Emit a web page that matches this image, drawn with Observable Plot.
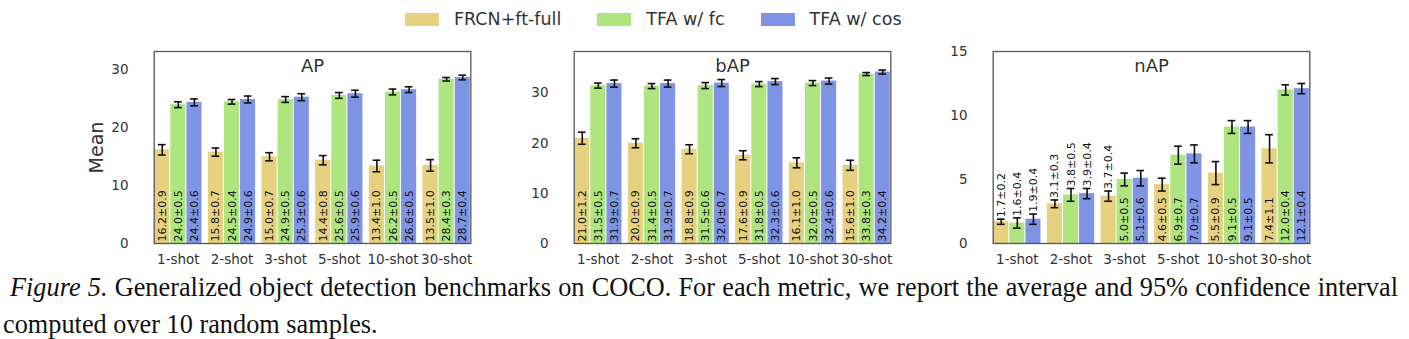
<!DOCTYPE html>
<html><head><meta charset="utf-8">
<script src="https://cdn.jsdelivr.net/npm/d3@7"></script>
<script src="https://cdn.jsdelivr.net/npm/@observablehq/plot@0.6"></script>
<style>
html,body{margin:0;padding:0;background:#fff;}
body{width:1409px;height:339px;position:relative;overflow:hidden;font-family:"DejaVu Sans",sans-serif;}
.panel{position:absolute;top:40px;width:420px;height:238px;}
.panel svg{max-width:none;overflow:visible;background:transparent;}
.panel g[aria-label="y-axis label"] text{font-size:19px;}
#legend{position:absolute;left:405px;top:13px;height:13px;display:flex;align-items:center;}
.item{display:flex;align-items:center;margin-right:36px;}
.sw{width:34px;height:13px;margin-right:15px;}
.lt{font-size:17.5px;color:#333;line-height:13px;}
.cap{position:absolute;font-family:"Liberation Serif",serif;font-size:26.3px;line-height:37px;color:#111;white-space:nowrap;}
</style>
</head><body>
<div id="legend"></div>
<div class="panel" id="p0" style="left:77px"></div>
<div class="panel" id="p1" style="left:497px"></div>
<div class="panel" id="p2" style="left:916px"></div>
<div class="cap" id="cap1" style="left:10px;top:269px;width:1388px;white-space:normal;text-align:justify;text-align-last:justify;"></div>
<div class="cap" id="cap2" style="left:3px;top:306px;"></div>
<script>
const shots = ["1-shot", "2-shot", "3-shot", "5-shot", "10-shot", "30-shot"];
const methods = ["FRCN+ft-full", "TFA w/ fc", "TFA w/ cos"];
const colors = ["#e5d17f", "#aee57f", "#7f94e5"];
const metrics = ["AP", "bAP", "nAP"];

// mean and 95% CI half-width per method (rows follow `methods`), columns follow `shots`
const apMean = [[16.2, 15.8, 15.0, 14.4, 13.4, 13.5], [24.0, 24.5, 24.9, 25.6, 26.2, 28.4], [24.4, 24.9, 25.3, 25.9, 26.6, 28.7]];
const apErr  = [[0.9, 0.7, 0.7, 0.8, 1.0, 1.0], [0.5, 0.4, 0.5, 0.5, 0.5, 0.3], [0.6, 0.6, 0.6, 0.6, 0.5, 0.4]];
const bapMean = [[21.0, 20.0, 18.8, 17.6, 16.1, 15.6], [31.5, 31.4, 31.5, 31.8, 32.0, 33.8], [31.9, 31.9, 32.0, 32.3, 32.4, 34.2]];
const bapErr  = [[1.2, 0.9, 0.9, 0.9, 1.0, 1.0], [0.5, 0.5, 0.6, 0.5, 0.5, 0.3], [0.7, 0.7, 0.7, 0.6, 0.6, 0.4]];
const napMean = [[1.7, 3.1, 3.7, 4.6, 5.5, 7.4], [1.6, 3.8, 5.0, 6.9, 9.1, 12.0], [1.9, 3.9, 5.1, 7.0, 9.1, 12.1]];
const napErr  = [[0.2, 0.3, 0.4, 0.5, 0.9, 1.1], [0.4, 0.5, 0.5, 0.7, 0.5, 0.4], [0.4, 0.4, 0.6, 0.7, 0.5, 0.4]];

const yMax = [33.2, 38.3, 15];
const yTicks = [[0, 10, 20, 30], [0, 10, 20, 30], [0, 5, 10, 15]];
const yLabels = ["Mean", null, null];

const captionLine1 = ["Figure 5.", " Generalized object detection benchmarks on COCO. For each metric, we report the average and 95% confidence interval"];
const captionLine2 = "computed over 10 random samples.";

const legend = document.getElementById("legend");
methods.forEach((m, i) => {
  const it = document.createElement("div"); it.className = "item";
  const sw = document.createElement("div"); sw.className = "sw"; sw.style.background = colors[i];
  const t = document.createElement("div"); t.className = "lt"; t.textContent = m;
  it.append(sw, t); legend.append(it);
});

const W = 420, ML = 60, MR = 10, PI = 0.1, PO = 0.311;
// the y axis sits at the first facet's edge; shift it back to the frame edge
const facetOffset = PO * (W - ML - MR) / (shots.length - PI + 2 * PO);

function panel(k, mean, err) {
  const rows = [];
  methods.forEach((m, i) => shots.forEach((s, j) => rows.push({shot: s, method: m, mean: mean[i][j], err: err[i][j]})));
  const inside = d => d.mean >= 4;
  return Plot.plot({
    width: W, height: 238,
    marginLeft: ML, marginRight: MR, marginTop: 11, marginBottom: 35,
    fx: {domain: shots, paddingInner: PI, paddingOuter: PO, round: false, label: null},
    x: {domain: methods, padding: 0, round: false, axis: null},
    y: {domain: [0, yMax[k]], axis: null},
    color: {domain: methods, range: colors},
    style: {fontFamily: "DejaVu Sans", fontSize: "13.5px", color: "#333", background: "transparent"},
    marks: [
      Plot.barY(rows, {fx: "shot", x: "method", y: "mean", fill: "method", insetLeft: 0.5, insetRight: 0.5}),
      Plot.ruleX(rows, {fx: "shot", x: "method", y1: d => d.mean - d.err, y2: d => d.mean + d.err, stroke: "#111", strokeWidth: 1.6}),
      Plot.tickY(rows, {fx: "shot", x: "method", y: d => d.mean - d.err, insetLeft: 4.2, insetRight: 4.2, stroke: "#111", strokeWidth: 1.6}),
      Plot.tickY(rows, {fx: "shot", x: "method", y: d => d.mean + d.err, insetLeft: 4.2, insetRight: 4.2, stroke: "#111", strokeWidth: 1.6}),
      Plot.text(rows, {fx: "shot", x: "method", y: d => inside(d) ? 0 : d.mean + d.err,
        text: d => `${d.mean.toFixed(1)}±${d.err.toFixed(1)}`, rotate: -90, textAnchor: "start", lineAnchor: "middle",
        dy: -2, fontSize: 11, fill: "#111"}),
      Plot.axisFx({anchor: "bottom", tickSize: 0, tickPadding: 11, label: null, fontSize: 13.5, fill: "#333"}),
      Plot.axisY({ticks: yTicks[k], tickSize: 0, tickPadding: 9, dx: -facetOffset, fontSize: 13.5, fill: "#333",
        label: yLabels[k], labelAnchor: "center", labelArrow: "none", labelOffset: 64.5}),
      Plot.frame({facet: "super", stroke: "#555", strokeWidth: 1.3}),
      Plot.text([metrics[k]], {facet: "super", frameAnchor: "top", dy: 8, fontSize: 18, fill: "#333"})
    ]
  });
}

document.getElementById("p0").append(panel(0, apMean, apErr));
document.getElementById("p1").append(panel(1, bapMean, bapErr));
document.getElementById("p2").append(panel(2, napMean, napErr));

const c1 = document.getElementById("cap1");
const it = document.createElement("i"); it.textContent = captionLine1[0];
c1.append(it, document.createTextNode(captionLine1[1]));
document.getElementById("cap2").textContent = captionLine2;
</script>
</body></html>
